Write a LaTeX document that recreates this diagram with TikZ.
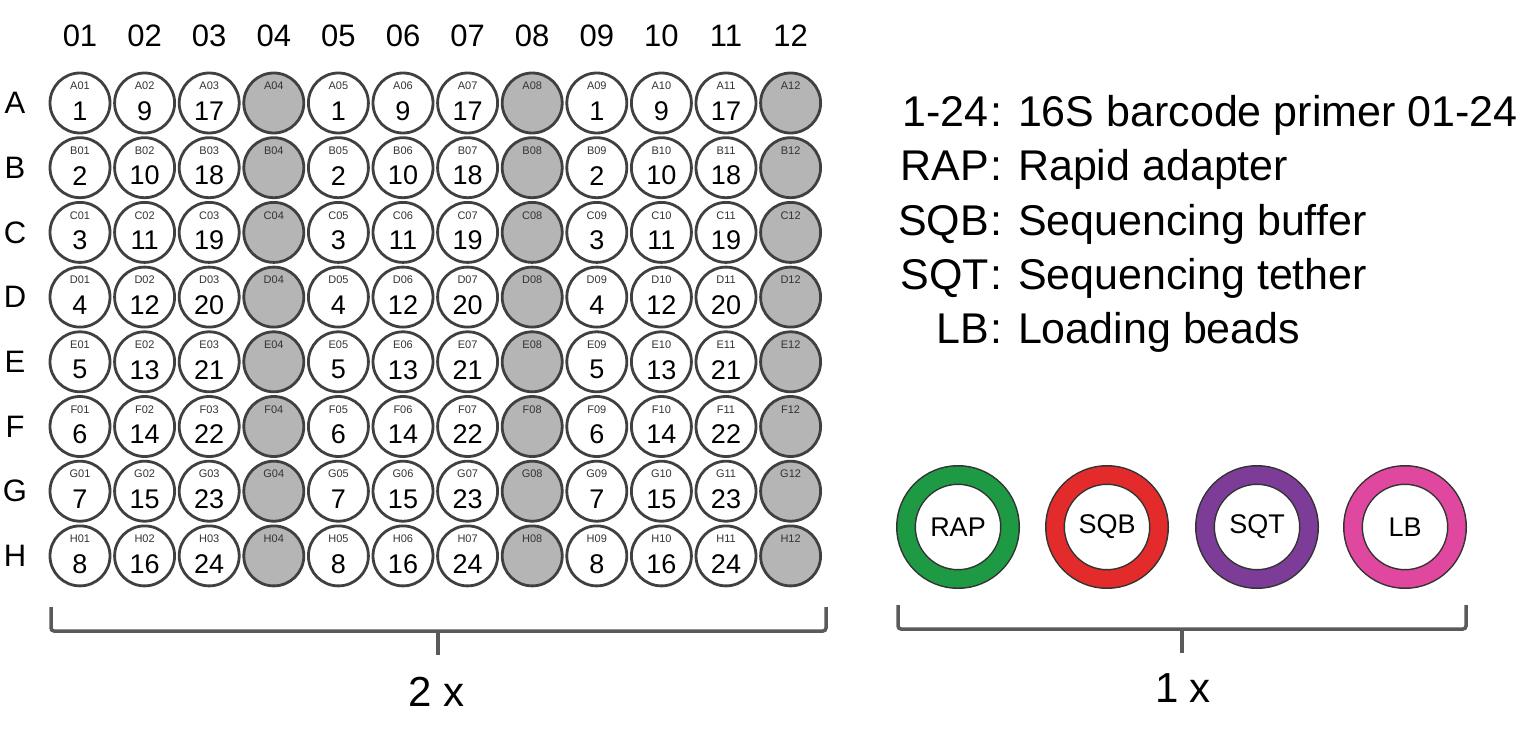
\documentclass[tikz,border=0pt]{standalone}
\usepackage{fontspec}
\setmainfont{Liberation Sans}
\usepackage{tikz}
\usetikzlibrary{positioning}

\definecolor{wellline}{HTML}{404040}
\definecolor{wellgray}{HTML}{B5B5B5}
\definecolor{labgray}{HTML}{333333}
\definecolor{bracketgray}{HTML}{5A5A5A}
\definecolor{ringgreen}{HTML}{1F9A44}
\definecolor{ringred}{HTML}{E32B2B}
\definecolor{ringpurple}{HTML}{7D3C98}
\definecolor{ringpink}{HTML}{E0479E}

\tikzset{
  well/.style={circle, draw=wellline, line width=2.8pt, fill=white, minimum size=60pt, inner sep=0pt},
  emptywell/.style={well, fill=wellgray},
  wellid/.style={font=\fontsize{11}{11}\selectfont, text=labgray, inner sep=0pt},
  wellnum/.style={font=\fontsize{27}{27}\selectfont, inner sep=0pt},
  headlab/.style={font=\fontsize{31}{31}\selectfont, inner sep=0pt},
  keylab/.style={font=\fontsize{43}{43}\selectfont, inner sep=0pt},
  tube/.style={circle, draw=labgray, line width=1.5pt, double=#1, double distance=17pt,
    fill=white, minimum size=104pt, inner sep=0pt, font=\fontsize{27}{27}\selectfont},
  bracket/.style={draw=bracketgray, line width=3.5pt, rounded corners=3pt},
  times/.style={font=\fontsize{42}{42}\selectfont, inner sep=0pt}
}

\begin{document}
\begin{tikzpicture}[x=1pt, y=-1pt]
\useasboundingbox (0,0) rectangle (1536,738);

% column numbers
\foreach \c in {1,...,12} {
 \pgfmathsetmacro\xx{80+64.6*(\c-1)}
 \edef\cc{\ifnum\c<10 0\fi\c}
 \node[headlab] (col-\cc) at (\xx,36) {\cc};
}

% plate
\foreach \r [count=\i] in {A,B,C,D,E,F,G,H} {
 \pgfmathsetmacro\yy{103+64.7*(\i-1)}
 \node[headlab] (row-\r) at (15,\yy) {\r};
 \foreach \c in {1,...,12} {
  \pgfmathsetmacro\xx{80+64.6*(\c-1)}
  \pgfmathtruncatemacro\g{mod(\c-1,4)}
  \pgfmathtruncatemacro\n{\i+8*\g}
  \edef\cc{\ifnum\c<10 0\fi\c}
  \ifnum\g=3 \def\ws{emptywell}\else\def\ws{well}\fi
  \node[\ws] (w-\r\cc) at (\xx,\yy) {};
  \node[wellid] (id-\r\cc) at (\xx,\yy-17) {\r\cc};
  \ifnum\g<3 \node[wellnum] (n-\r\cc) at (\xx,\yy+8) {\n}; \fi
 }
}

% key
\foreach \k/\t [count=\j] in {1-24/16S barcode primer 01-24, RAP/Rapid adapter,
   SQB/Sequencing buffer, SQT/Sequencing tether, LB/Loading beads} {
 \pgfmathsetmacro\yy{127+54*(\j-1)}
 \node[keylab, anchor=base east] (key-\j) at (989,\yy) {\k};
 \node[keylab, anchor=base west] (txt-\j) at (990,\yy) {: \t};
}

% tubes
\node[tube=ringgreen] (rap) at (958,527) {RAP};
\node[tube=ringred] (sqb) at (1107,527) {SQB};
\node[tube=ringpurple] (sqt) at (1257,527) {SQT};
\node[tube=ringpink] (lb) at (1405,527) {LB};

% brackets
\draw[bracket] (51,607) -- (51,631) -- (826,631) -- (826,607);
\draw[bracket] (438,631) -- (438,655) coordinate (plate-tip);
\node[times] (plate-count) at (437,692) {2 x};
\draw[bracket] (898,605) -- (898,629) -- (1466,629) -- (1466,605);
\draw[bracket] (1182,629) -- (1182,653) coordinate (tube-tip);
\node[times] (tube-count) at (1183,688) {1 x};
\end{tikzpicture}
\end{document}
